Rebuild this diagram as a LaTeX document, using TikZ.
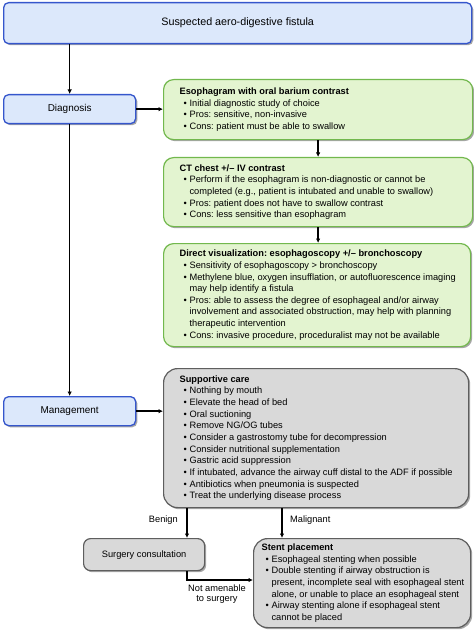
\documentclass[tikz,border=0pt]{standalone}
\usepackage{fontspec}
\setmainfont{Liberation Sans}
\usetikzlibrary{arrows.meta,shadows}
\definecolor{bfill}{HTML}{DCE8FB}
\definecolor{bdraw}{HTML}{3556CC}
\definecolor{gfill}{HTML}{E3F4D0}
\definecolor{gdraw}{HTML}{72B84D}
\definecolor{kfill}{HTML}{D9D9D9}
\definecolor{kdraw}{HTML}{5E5E5E}
\newcommand\ttl[1]{\noindent\mbox{\textbf{#1}}}
\newcommand\bl[1]{\par\noindent\hspace*{4bp}\makebox[6bp][l]{\textbullet}\mbox{#1}}
\newcommand\cl[1]{\par\noindent\hspace*{10bp}\mbox{#1}}
\newcommand\bx[2]{\begin{minipage}{#1}\frenchspacing\parskip=0pt #2\end{minipage}}
\hfuzz=80pt
\hbadness=10000
\begin{document}
\begin{tikzpicture}[x=1bp,y=-1bp,
  shad/.style={drop shadow={shadow xshift=1.6bp,shadow yshift=-1.6bp,fill=black,opacity=0.35}},
  bbox/.style={draw=bdraw, fill=bfill, rounded corners=5bp, line width=1.3bp, anchor=north west,
    font=\fontsize{10}{12}\selectfont, shad},
  gbox/.style={draw=gdraw, fill=gfill, rounded corners=10bp, line width=1.2bp, anchor=north west,
    inner xsep=16bp, inner ysep=0bp, font=\fontsize{9.3}{11.7}\selectfont, shad},
  kbox/.style={draw=kdraw, fill=kfill, rounded corners=14bp, line width=1.2bp, anchor=north west,
    inner ysep=0bp, font=\fontsize{9.3}{11.7}\selectfont, shad},
  conn/.style={line width=1.5bp, -{Latex[length=4.5bp,width=4.5bp]}},
  lbl/.style={font=\fontsize{9.3}{10.5}\selectfont, inner sep=0bp, align=center}
]
\useasboundingbox (0,0) rectangle (474,630);

\node[bbox, minimum width=468bp, minimum height=41bp, font=\fontsize{10.8}{13}\selectfont] (top) at (3,2) {Suspected aero-digestive fistula};
\node[bbox, minimum width=132bp, minimum height=29bp] (diag) at (3,94) {Diagnosis};
\node[bbox, minimum width=132bp, minimum height=29bp] (mgmt) at (3,396) {Management};

\node[gbox, minimum width=309bp, minimum height=60bp] (eso) at (163,79) {\bx{277bp}{%
\ttl{Esophagram with oral barium contrast}
\bl{Initial diagnostic study of choice}
\bl{Pros: sensitive, non-invasive}
\bl{Cons: patient must be able to swallow}}};

\node[gbox, minimum width=309bp, minimum height=69bp] (ct) at (163,157) {\bx{277bp}{%
\ttl{CT chest +/– IV contrast}
\bl{Perform if the esophagram is non-diagnostic or cannot be}
\cl{completed (e.g., patient is intubated and unable to swallow)}
\bl{Pros: patient does not have to swallow contrast}
\bl{Cons: less sensitive than esophagram}}};

\node[gbox, minimum width=307bp, minimum height=103bp] (dir) at (163,243) {\bx{275bp}{%
\ttl{Direct visualization: esophagoscopy +/– bronchoscopy}
\bl{Sensitivity of esophagoscopy > bronchoscopy}
\bl{Methylene blue, oxygen insufflation, or autofluorescence imaging}
\cl{may help identify a fistula}
\bl{Pros: able to assess the degree of esophageal and/or airway}
\cl{involvement and associated obstruction, may help with planning}
\cl{therapeutic intervention}
\bl{Cons: invasive procedure, proceduralist may not be available}}};

\node[kbox, inner xsep=16bp, minimum width=305bp, minimum height=139bp] (supp) at (163,368) {\bx{273bp}{%
\ttl{Supportive care}
\bl{Nothing by mouth}
\bl{Elevate the head of bed}
\bl{Oral suctioning}
\bl{Remove NG/OG tubes}
\bl{Consider a gastrostomy tube for decompression}
\bl{Consider nutritional supplementation}
\bl{Gastric acid suppression}
\bl{If intubated, advance the airway cuff distal to the ADF if possible}
\bl{Antibiotics when pneumonia is suspected}
\bl{Treat the underlying disease process}}};

\node[kbox, rounded corners=7bp, minimum width=121bp, minimum height=32bp] (surg) at (83,538) {Surgery consultation};

\node[kbox, inner xsep=8bp, minimum width=217bp, minimum height=89bp] (stent) at (253,538) {\bx{201bp}{%
\ttl{Stent placement}
\bl{Esophageal stenting when possible}
\bl{Double stenting if airway obstruction is}
\cl{present, incomplete seal with esophageal stent}
\cl{alone, or unable to place an esophageal stent}
\bl{Airway stenting alone if esophageal stent}
\cl{cannot be placed}}};

\coordinate (bx) at (187,0);
\coordinate (mx) at (282,0);
\coordinate (na) at (0,580);

\draw[conn] (diag.north |- top.south) -- (diag.north);
\draw[conn] (diag.east) -- (diag.east -| eso.west);
\draw[conn] (eso.south) -- (ct.north);
\draw[conn] (ct.south) -- (ct.south |- dir.north);
\draw[conn] (diag.south) -- (mgmt.north);
\draw[conn] (mgmt.east) -- (mgmt.east -| supp.west);
\draw[conn] (bx |- supp.south) -- (bx |- surg.north);
\draw[conn] (mx |- supp.south) -- (mx |- stent.north);
\draw[conn] (bx |- surg.south) |- (na -| stent.west);

\node[lbl, anchor=east] (lb) at (178,520) {Benign};
\node[lbl, anchor=west] (lm) at (290,520) {Malignant};
\node[lbl] (ln) at (217,594) {Not amenable\\to surgery};
\end{tikzpicture}
\end{document}
